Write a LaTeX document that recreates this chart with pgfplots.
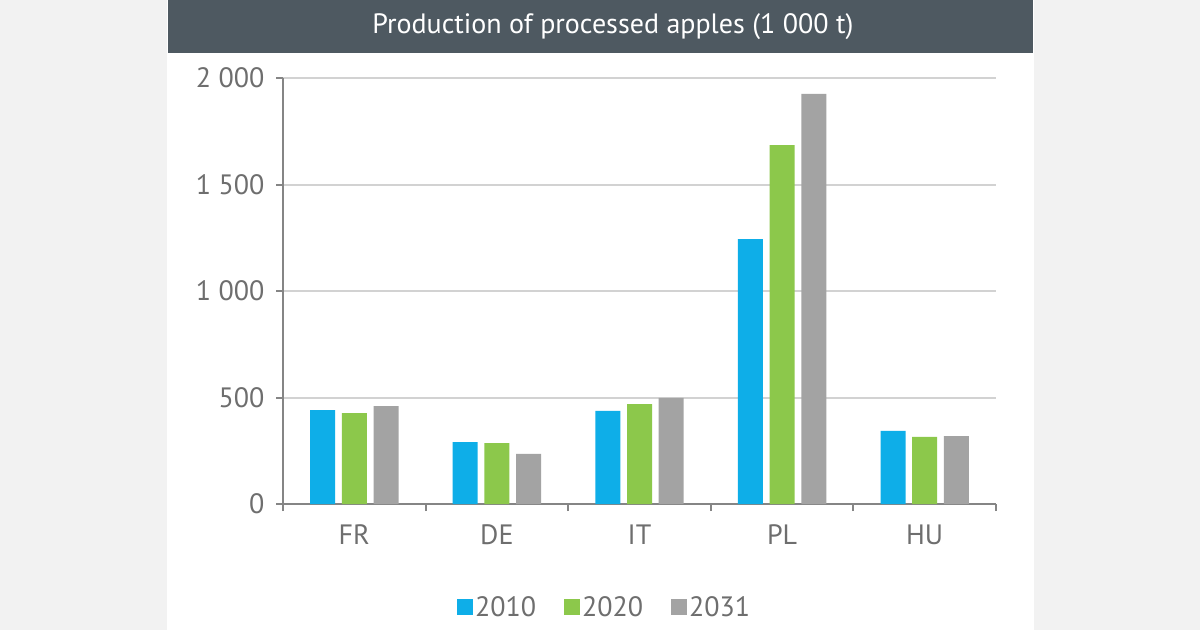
\documentclass[border=0pt]{standalone}
\usepackage{fontspec}
\setmainfont{PT Sans}
\usepackage{pgfplots}
\pgfplotsset{compat=1.18}

\definecolor{bggray}{HTML}{F2F2F2}
\definecolor{titlebar}{HTML}{4E5961}
\definecolor{c2010}{HTML}{0EAEE8}
\definecolor{c2020}{HTML}{8CC84B}
\definecolor{c2031}{HTML}{A3A3A3}
\definecolor{txtgray}{HTML}{6E6E6E}
\definecolor{axgray}{HTML}{858585}
\definecolor{gridgray}{HTML}{D2D2D2}

\pgfplotstableread{
cat y2010 y2020 y2031
0 441 427 460
1 291 286 235
2 437 469 498
3 1244 1685 1925
4 343 315 319
}\apples

\begin{document}
\begin{tikzpicture}[x=1pt,y=1pt]
\fill[bggray] (0,0) rectangle (1200,630);
\fill[white] (167,0) rectangle (1034,630);
\fill[titlebar] (168,577) rectangle (1033,630);
\node[text=white, font=\fontsize{28}{34}\selectfont] at (613,603) {Production of processed apples (1 000 t)};
\begin{axis}[
    at={(283pt,126pt)}, anchor=south west,
    scale only axis,
    width=713pt, height=426pt,
    ybar=6.7pt, bar width=25pt,
    xmin=-0.5, xmax=4.5,
    ymin=0, ymax=2000,
    xtick={0,1,2,3,4},
    xticklabels={FR,DE,IT,PL,HU},
    minor xtick={-0.5,0.5,1.5,2.5,3.5,4.5},
    major x tick style={draw=none},
    ytick={0,500,1000,1500,2000},
    yticklabels={0,500,1 000,1 500,2 000},
    tick align=outside,
    major tick length=7pt, minor tick length=7pt,
    axis x line*=bottom, axis y line*=left,
    axis line style={axgray, line width=2pt},
    every tick/.style={axgray, line width=2pt},
    ymajorgrids, grid style={gridgray, line width=2pt},
    tick label style={text=txtgray, font=\fontsize{28}{32}\selectfont},
    x tick label style={yshift=-10pt},
    y tick label style={xshift=-8pt},
    legend columns=3,
    legend style={at={(0.451,-0.2418)}, anchor=center, draw=none, fill=none,
        font=\fontsize{28}{32}\selectfont, text=txtgray,
        /tikz/every even column/.append style={column sep=26pt}},
    legend image code/.code={\fill[#1] (0pt,-8pt) rectangle (16pt,8pt);},
]
\addplot[fill=c2010, draw=none] table[x=cat, y=y2010] {\apples};
\addplot[fill=c2020, draw=none] table[x=cat, y=y2020] {\apples};
\addplot[fill=c2031, draw=none] table[x=cat, y=y2031] {\apples};
\legend{2010,2020,2031}
\end{axis}
\path (0,0) rectangle (1200,630);
\end{tikzpicture}
\end{document}
